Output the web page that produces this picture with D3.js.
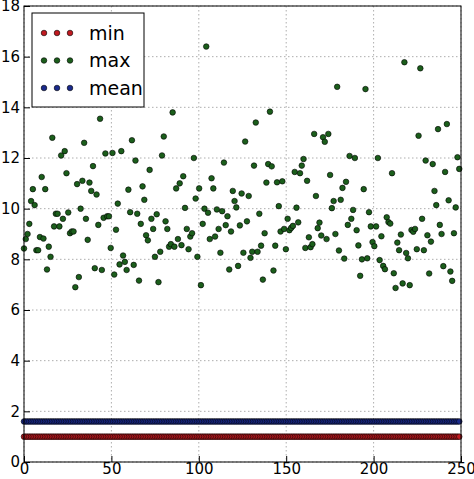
<!DOCTYPE html>
<html><head><meta charset="utf-8">
<script src="https://cdn.jsdelivr.net/npm/d3@7"></script>
<style>body{margin:0;background:#fff}text{font-family:"DejaVu Sans",sans-serif}</style>
</head><body><svg id="c" width="474" height="479"></svg>
<script>
const maxValues=[8.43,8.8,9.0,9.4,10.3,10.77,10.14,8.36,8.36,8.88,11.25,8.82,10.77,7.6,8.5,8.1,12.8,9.3,9.8,9.8,9.3,12.1,9.6,12.27,11.4,9.85,9.03,9.1,9.1,6.9,10.97,7.3,10.0,11.1,12.6,9.6,8.77,11.03,10.7,11.68,7.65,10.56,9.36,13.55,7.58,9.64,12.18,9.7,9.7,8.45,12.2,7.4,9.17,10.2,7.8,12.27,8.15,7.9,7.58,10.75,9.86,12.7,7.78,11.9,9.8,7.16,9.4,10.88,10.35,8.95,8.75,11.53,9.6,9.2,8.1,9.78,7.1,8.3,12.1,12.85,9.5,9.2,8.5,8.6,13.8,8.5,10.8,8.8,11.0,8.56,11.28,10.03,9.2,8.4,8.9,9.03,12.0,10.4,8.1,10.8,6.98,9.4,10.0,16.4,9.84,8.8,11.2,10.8,8.9,9.97,9.2,8.26,9.9,11.82,9.35,9.7,7.6,9.1,10.7,10.3,10.05,7.74,9.34,10.6,8.26,12.65,9.5,10.5,8.06,8.3,11.7,13.4,8.3,9.8,8.54,7.2,9.03,11.03,11.76,13.83,11.67,7.56,8.54,11.04,10.1,9.1,11.08,9.2,8.4,9.6,9.15,9.24,9.32,11.45,10.04,9.46,11.4,11.7,11.96,8.45,11.1,8.87,8.48,8.6,12.95,10.5,9.23,9.45,8.94,12.82,12.64,8.8,12.95,11.33,10.02,10.3,9.0,14.81,8.35,10.35,10.82,8.03,11.06,9.36,12.08,9.6,9.95,12.0,9.15,8.55,7.35,8.0,10.77,14.72,8.04,9.86,9.3,8.68,8.52,9.3,12.0,7.97,8.91,7.74,7.61,9.66,9.47,9.41,11.4,7.45,6.87,8.66,8.36,8.98,7.05,15.78,8.25,8.04,6.98,9.16,9.09,9.2,8.4,12.88,15.54,9.6,8.36,11.9,8.95,7.44,8.7,11.76,10.7,10.14,13.14,9.36,9.0,7.73,11.45,13.34,10.33,7.52,7.15,9.03,10.05,12.03,11.57];
const N=250;
const minValues=Array.from({length:N},()=>1.0);
const meanValues=Array.from({length:N},()=>1.6);
const xTicks=[0,50,100,150,200,250];
const yTicks=[0,2,4,6,8,10,12,14,16,18];
const seriesNames=["min","max","mean"];
const colors=["#c01a20","#1b5e1b","#1a2a8c"];

const svg=d3.select("#c");
const L=24,R=461,T=6,B=462;
const x=d3.scaleLinear().domain([0,250]).range([L,R]);
const y=d3.scaleLinear().domain([0,18]).range([B,T]);
const g=svg.append("g");
g.selectAll(".gx").data(xTicks).join("line").attr("x1",d=>x(d)).attr("x2",d=>x(d)).attr("y1",T).attr("y2",B).attr("stroke","#999").attr("stroke-dasharray","1.5,2.5").attr("stroke-width",0.8);
g.selectAll(".gy").data(yTicks).join("line").attr("y1",d=>y(d)).attr("y2",d=>y(d)).attr("x1",L).attr("x2",R).attr("stroke","#999").attr("stroke-dasharray","1.5,2.5").attr("stroke-width",0.8);
function dots(vals,col,xf){g.append("g").selectAll("circle").data(vals).join("circle").attr("cx",(d,i)=>x(xf(i))).attr("cy",d=>y(d)).attr("r",2.8).attr("fill",col).attr("stroke","#000").attr("stroke-width",0.6);}
dots(minValues,colors[0],i=>i);
dots(maxValues,colors[1],i=>i*249/(maxValues.length-1));
dots(meanValues,colors[2],i=>i);
const ax=d3.axisBottom(x).tickValues(xTicks).tickSize(-6).tickPadding(3);
const ay=d3.axisLeft(y).tickValues(yTicks).tickSize(-6).tickPadding(4);
const gx=svg.append("g").attr("transform",`translate(0,${B})`).call(ax);
const gy=svg.append("g").attr("transform",`translate(${L},0)`).call(ay);
[gx,gy].forEach(a=>{a.select(".domain").remove();a.selectAll("text").attr("font-size",15).attr("fill","#000").style("font-family","DejaVu Sans");a.selectAll("line").attr("stroke","#000");});
gx.selectAll("text").attr("dy","0.6em");
svg.append("rect").attr("x",L).attr("y",T).attr("width",R-L).attr("height",B-T).attr("fill","none").attr("stroke","#000").attr("stroke-width",1);
const lg=svg.append("g");
lg.append("rect").attr("x",32).attr("y",13).attr("width",112).attr("height",94).attr("fill","#fff").attr("stroke","#000");
seriesNames.forEach((n,k)=>{const yy=33+k*27.5;
 [44,57,70].forEach(cx=>lg.append("circle").attr("cx",cx).attr("cy",yy).attr("r",2.8).attr("fill",colors[k]).attr("stroke","#000").attr("stroke-width",0.6));
 lg.append("text").attr("x",89).attr("y",yy).attr("dy","0.35em").attr("font-size",19).text(n);});
</script></body></html>
